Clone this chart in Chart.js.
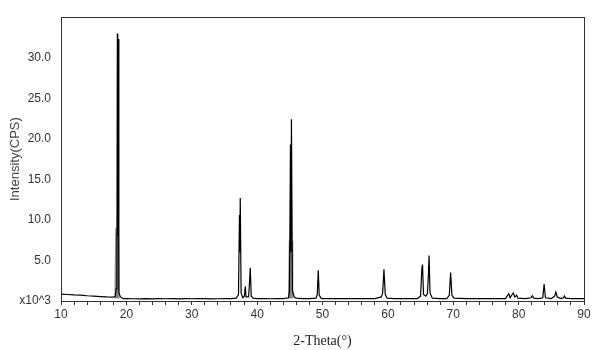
<!DOCTYPE html>
<html lang="en">
<head>
  <meta charset="UTF-8">
  <title>XRD pattern</title>
  <script src="https://cdn.jsdelivr.net/npm/chart.js"></script>
  <style>
    body { margin: 0; background: #ffffff; }
    canvas { display: block; }
  </style>
</head>
<body>
  <canvas id="xrd" width="600" height="350"></canvas>

  <script>
    // measured pattern, intensity in 10^3 CPS
    const twoTheta = [
      10, 11, 12, 13, 14, 15, 16, 17, 18, 18.3, 18.45, 18.55, 18.62, 18.68, 18.74, 18.85, 19.1, 19.5,
      20, 21, 22, 23, 24, 25, 26, 27, 28, 29, 30, 31, 32, 33, 34, 35, 36, 36.8,
      37.15, 37.3, 37.35, 37.42, 37.55, 37.8, 38.05, 38.2, 38.3, 38.7, 38.85, 38.95, 39.1, 39.4,
      40, 41, 42, 43, 44, 44.8, 44.95, 45.1, 45.15, 45.25, 45.4, 45.7,
      46, 47, 48, 49, 49.2, 49.35, 49.5, 49.8,
      50, 52, 54, 56, 58, 59.0, 59.2, 59.4, 59.6, 59.9,
      61, 63, 64.5, 65.0, 65.2, 65.3, 65.45, 65.8, 66.05, 66.2, 66.3, 66.45, 66.8,
      68, 69, 69.4, 69.6, 69.8, 70.1,
      72, 74, 76, 78, 78.3, 78.5, 78.7, 79.0, 79.2, 79.4, 79.7, 79.9,
      81, 81.9, 82.1, 82.3, 83, 83.7, 83.9, 84.1, 85, 85.5, 85.7, 85.9, 86.5, 86.9, 87.0, 87.2,
      88, 89, 90
    ];
    const intensity = [
      0.85, 0.8, 0.75, 0.72, 0.65, 0.6, 0.55, 0.5, 0.48, 0.55, 1.5, 3.0, 33.0, 8.0, 32.3, 1.0, 0.5, 0.3,
      0.3, 0.28, 0.27, 0.3, 0.25, 0.3, 0.28, 0.3, 0.27, 0.3, 0.28, 0.3, 0.3, 0.27, 0.28, 0.3, 0.3, 0.35,
      0.8, 10.6, 6.0, 12.7, 1.0, 0.4, 0.6, 1.8, 0.5, 0.5, 2.5, 4.1, 0.6, 0.35,
      0.3, 0.3, 0.28, 0.3, 0.3, 0.4, 1.2, 19.3, 6.0, 22.4, 1.3, 0.45,
      0.35, 0.3, 0.3, 0.35, 0.8, 3.8, 0.7, 0.35,
      0.3, 0.3, 0.3, 0.3, 0.3, 0.5, 1.0, 3.9, 0.8, 0.35,
      0.3, 0.3, 0.3, 0.6, 4.0, 4.5, 0.8, 0.6, 0.9, 3.2, 5.6, 1.0, 0.35,
      0.3, 0.3, 0.7, 3.5, 0.7, 0.35,
      0.3, 0.3, 0.3, 0.3, 0.7, 0.9, 0.4, 0.8, 1.0, 0.5, 0.7, 0.35,
      0.3, 0.4, 0.65, 0.35, 0.3, 0.4, 2.1, 0.4, 0.3, 0.6, 1.1, 0.5, 0.3, 0.4, 0.6, 0.35,
      0.3, 0.3, 0.3
    ];

    // grey shaded part under the two strongest peaks
    const greyTheta = [18.4, 18.52, 18.64, 18.76, 30, 44.95, 45.07, 45.19, 45.31];
    const greyIntensity = [0.3, 8.8, 8.8, 0.3, null, 0.3, 7.3, 7.3, 0.3];

    const xTicksMin = 10, xTicksMax = 90;
    const yMax = 35;

    const mainPoints = twoTheta.map((t, i) => ({ x: t, y: intensity[i] }));
    const greyPoints = greyTheta.map((t, i) => ({ x: t, y: greyIntensity[i] }));

    // box round the plot area
    const frame = {
      id: 'frame',
      afterDraw(chart) {
        const a = chart.chartArea;
        const c = chart.ctx;
        c.save();
        c.strokeStyle = '#333';
        c.lineWidth = 1;
        c.strokeRect(Math.round(a.left) + 0.5, Math.round(a.top) + 0.5,
                     Math.round(a.right - a.left), Math.round(a.bottom - a.top));
        c.restore();
      }
    };

    new Chart(document.getElementById('xrd'), {
      type: 'line',
      data: {
        datasets: [
          {
            data: mainPoints,
            borderColor: '#000',
            borderWidth: 1.2,
            pointRadius: 0,
            tension: 0,
            order: 1
          },
          {
            data: greyPoints,
            borderColor: '#8a8a8a',
            borderWidth: 3,
            pointRadius: 0,
            tension: 0,
            spanGaps: false,
            order: 2
          }
        ]
      },
      options: {
        responsive: false,
        animation: false,
        devicePixelRatio: 1,
        layout: { padding: { top: 8, right: 16, left: 0, bottom: 0 } },
        plugins: { legend: { display: false }, tooltip: { enabled: false } },
        scales: {
          x: {
            type: 'linear',
            min: xTicksMin,
            max: xTicksMax,
            afterFit(s) { s.height = 49; },
            grid: { drawOnChartArea: false, tickLength: 4, color: '#333' },
            border: { display: true, color: '#333' },
            ticks: {
              stepSize: 2,
              autoSkip: false,
              maxRotation: 0,
              padding: 2,
              color: '#333',
              font: { family: 'Liberation Sans', size: 12 },
              callback: v => (v % 10 === 0 ? String(v) : '')
            },
            title: {
              display: true,
              text: '2-Theta(°)',
              color: '#222',
              font: { family: 'Liberation Serif', size: 14 },
              padding: { top: 1, bottom: 0 }
            }
          },
          y: {
            min: 0,
            max: yMax,
            afterFit(s) { s.width = 61; },
            grid: { drawOnChartArea: false, drawTicks: false },
            border: { display: true, color: '#333' },
            ticks: {
              stepSize: 5,
              padding: 10,
              color: '#333',
              font: { family: 'Liberation Sans', size: 12 },
              callback: v => (v === 0 ? 'x10^3' : v >= yMax ? '' : v.toFixed(1))
            },
            title: {
              display: true,
              text: 'Intensity(CPS)',
              color: '#444',
              font: { family: 'Liberation Sans', size: 13 },
              padding: { top: 8, bottom: 4 }
            }
          }
        }
      },
      plugins: [frame]
    });
  </script>
</body>
</html>
